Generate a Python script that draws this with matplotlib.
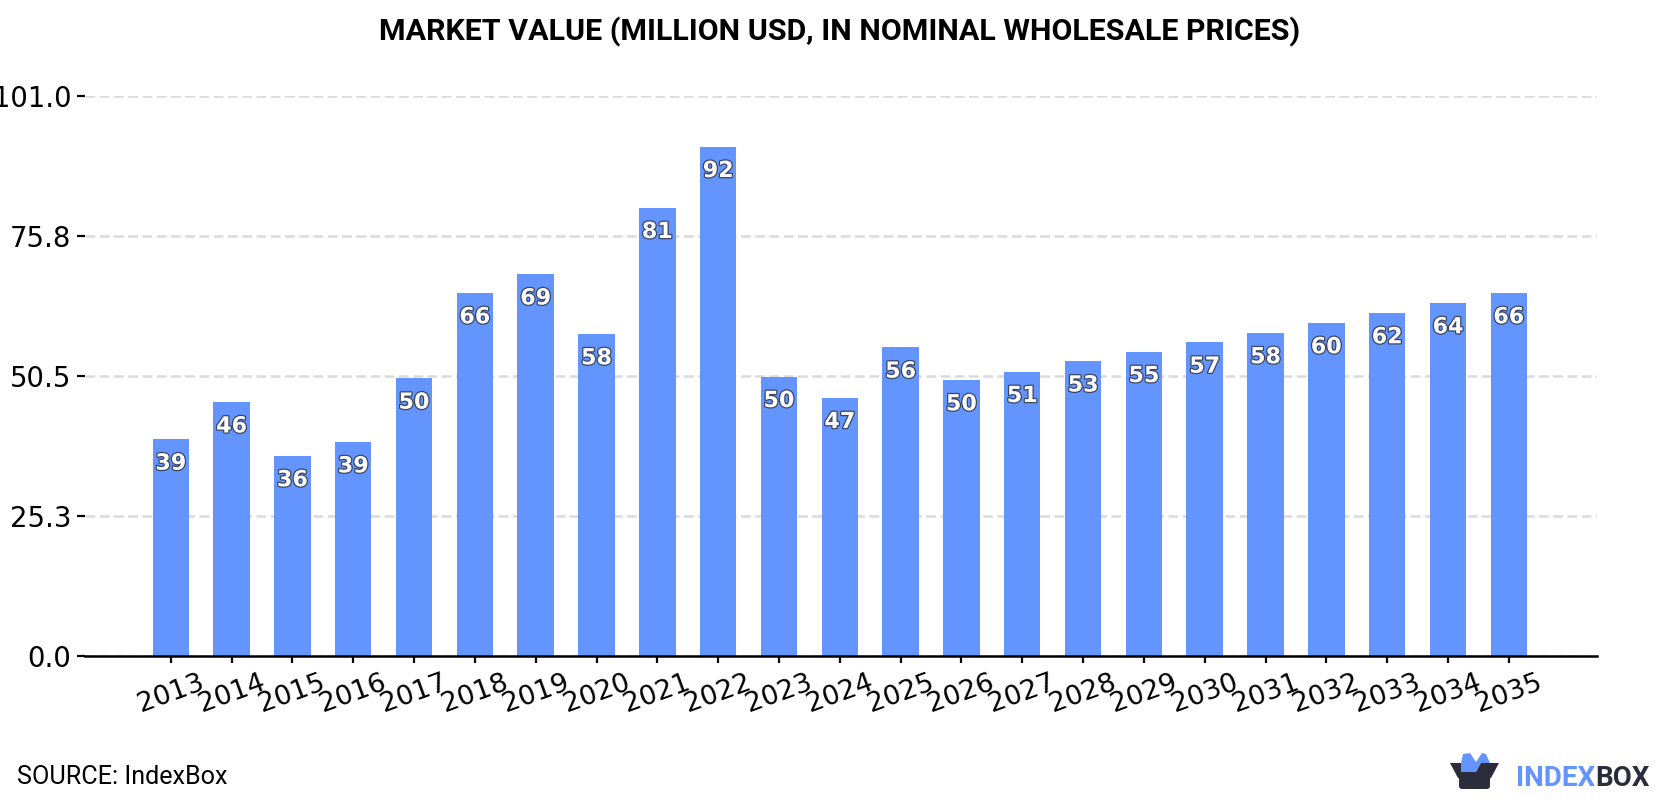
import matplotlib
matplotlib.use("Agg")
import matplotlib.pyplot as plt
import matplotlib.patheffects as pe
from matplotlib.patches import Polygon, FancyBboxPatch

years = ["2013", "2014", "2015", "2016", "2017", "2018", "2019", "2020", "2021", "2022", "2023", "2024",
         "2025", "2026", "2027", "2028", "2029", "2030", "2031", "2032", "2033", "2034", "2035"]
values = [39.1, 45.8, 36.1, 38.6, 50.1, 65.51, 68.9, 58.1, 80.9, 91.9, 50.4, 46.6,
          55.7, 49.8, 51.3, 53.2, 54.9, 56.6, 58.3, 60.1, 61.9, 63.7, 65.51]
y_ticks = [0.0, 25.3, 50.5, 75.8, 101.0]

W, H = 1680, 800
BLUE = "#6495ff"
DARK = "#2b2d3a"

fig = plt.figure(figsize=(W / 100, H / 100), dpi=100, facecolor="white")
ax = fig.add_axes([85 / W, (H - 656) / H, (1597 - 85) / W, (656 - 96.3) / H])

x = list(range(len(years)))
ax.bar(x, values, width=0.6, color=BLUE, zorder=2)
ax.set_xlim(-1.41, 23.45)
ax.set_ylim(0, 101.0)

ax.set_xticks(x)
ax.set_xticklabels(years, rotation=20, ha="center", fontsize=19.5)
ax.set_yticks(y_ticks)
ax.set_yticklabels([f"{t:.1f}" for t in y_ticks], fontsize=19.8)
ax.tick_params(axis="x", length=5, width=1.6, pad=5)
ax.tick_params(axis="y", length=5.8, width=1.6, pad=4)

for side in ["top", "left", "right"]:
    ax.spines[side].set_visible(False)
ax.spines["bottom"].set_linewidth(1.8)

ax.set_axisbelow(True)
ax.grid(axis="y", color="#dadada", linewidth=1.8, dashes=(3.9, 1.8))
ax.grid(axis="x", visible=False)

# value labels sit just inside the top of each bar
for xi, v in zip(x, values):
    ax.annotate(f"{v:.0f}", (xi, v), xytext=(0, -17.5), textcoords="offset points",
                ha="center", va="center", color="white", fontsize=16, fontweight="bold",
                path_effects=[pe.withStroke(linewidth=1.8, foreground="#3a4560")], zorder=3)

fig.text(0.5 * (378 + 1302) / W, 1 - 32 / H, "MARKET VALUE (MILLION USD, IN NOMINAL WHOLESALE PRICES)",
         family="Roboto", fontweight="bold", fontsize=21.9, ha="center", va="center", color="black")
fig.text(17 / W, 1 - 777 / H, "SOURCE: IndexBox", family="Roboto", fontsize=18.1,
         ha="left", va="center", color="black")

# logo: open box with a blue crown, then the wordmark
logo = fig.add_axes([0, 0, 1, 1], facecolor="none")
logo.set_xlim(0, W)
logo.set_ylim(H, 0)
logo.axis("off")
logo.add_patch(Polygon([(1461, 763), (1463, 754), (1470, 753), (1476, 762), (1482, 753), (1486, 754),
                        (1490, 763), (1481, 763), (1476, 772), (1461, 772)], color=BLUE, lw=0))
logo.add_patch(FancyBboxPatch((1459, 772), 31, 17, boxstyle="round,pad=0,rounding_size=3", color=DARK, lw=0))
logo.add_patch(Polygon([(1450, 763), (1461, 763), (1461, 772), (1476, 772), (1481, 763), (1499, 763),
                        (1491, 778), (1458, 778)], color=DARK, lw=0))
word = logo.text(1516, 776, "INDEX", family="Roboto", fontweight="bold", fontsize=20, color=BLUE,
                 ha="left", va="center_baseline")
logo.annotate("BOX", xy=(1, 0.5), xycoords=word, ha="left", va="center", family="Roboto",
              fontweight="bold", fontsize=20, color=DARK)

fig.savefig("out.png", dpi=100)
